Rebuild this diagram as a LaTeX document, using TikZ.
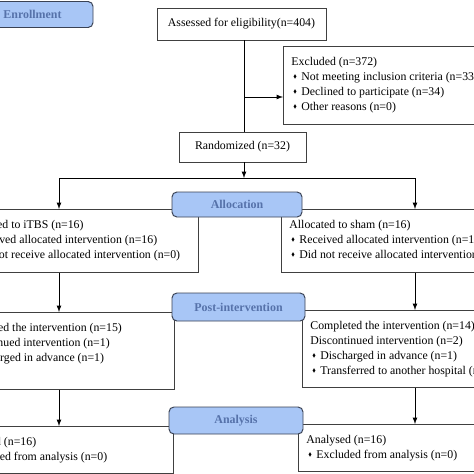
\documentclass[tikz,border=0pt]{standalone}
\usepackage{amssymb}
\usepackage{fontspec}
\setmainfont{Liberation Serif}
\usepackage{tikz}
\usetikzlibrary{arrows,positioning,calc}
\newlength{\pxu}
\setlength{\pxu}{0.025cm}
\definecolor{stagefill}{RGB}{168,198,246}
\definecolor{stagetext}{RGB}{86,114,170}
\definecolor{stageline}{RGB}{58,66,84}
\newcommand{\itm}{\hspace*{2\pxu}\makebox[8\pxu][l]{\raisebox{0.35ex}{\scalebox{0.45}{$\blacklozenge$}}}}
\newcommand{\boxtext}[3]{\parbox[t][#2\pxu][t]{#1\pxu}{\raggedright #3}}

\begin{document}
\begin{tikzpicture}[x=0.025cm,y=-0.025cm,font=\fontsize{8.4}{10.6}\selectfont,
    flowbox/.style={draw=black!75,line width=0.6pt,fill=white,anchor=north west,
      inner xsep=8*\pxu,inner ysep=11*\pxu},
    plainbox/.style={draw=black!75,line width=0.6pt,fill=white,inner sep=0pt},
    stage/.style={draw=stageline,line width=0.7pt,fill=stagefill,rounded corners=3.5pt,
      inner sep=0pt,text=stagetext,font=\fontsize{8.5}{10}\selectfont\bfseries},
    link/.style={line width=0.6pt}]
  \useasboundingbox (0,0) rectangle (474,474);
  \clip (0,0) rectangle (474,474);
  % enrollment
  \node[plainbox,minimum width=169*\pxu,minimum height=32*\pxu] (assess) at (241.5,24) {Assessed for eligibility(n=404)};
  \node[flowbox] (excl) at (283,46) {\boxtext{290}{56}{Excluded (n=372)\\
    \itm Not meeting inclusion criteria (n=338)\\
    \itm Declined to participate (n=34)\\
    \itm Other reasons (n=0)}};
  \node[plainbox,minimum width=127*\pxu,minimum height=30*\pxu] (random) at (242.5,147) {Randomized (n=32)};
  % allocation
  \node[flowbox] (allocl) at (-46,209) {\boxtext{228}{41}{Allocated to iTBS (n=16)\\
    \itm Received allocated intervention (n=16)\\
    \itm Did not receive allocated intervention (n=0)}};
  \node[flowbox] (allocr) at (281,209) {\boxtext{290}{41}{Allocated to sham (n=16)\\
    \itm Received allocated intervention (n=16)\\
    \itm Did not receive allocated intervention (n=0)}};
  % post-intervention
  \node[flowbox] (postl) at (-51,312) {\boxtext{209}{55}{Completed the intervention (n=15)\\
    Discontinued intervention (n=1)\\
    \itm Discharged in advance (n=1)}};
  \node[flowbox] (postr) at (302,310) {\boxtext{290}{55}{Completed the intervention (n=14)\\
    Discontinued intervention (n=2)\\
    \itm Discharged in advance (n=1)\\
    \itm Transferred to another hospital (n=1)}};
  % analysis
  \node[flowbox] (anal) at (-52,426) {\boxtext{209}{25}{Analysed (n=16)\\
    \itm Excluded from analysis (n=0)}};
  \node[flowbox] (anar) at (298,424) {\boxtext{290}{25}{Analysed (n=16)\\
    \itm Excluded from analysis (n=0)}};
  % connectors
  \coordinate (spine) at (244,0);
  \coordinate (lx) at (59,0);
  \coordinate (rx) at (415,0);
  \coordinate (exclarr) at (244,97);
  \coordinate (split) at (244,178);
  \draw[link] (assess.south -| spine) -- (random.north -| spine);
  \draw[link,-latex] (exclarr) -- (exclarr -| excl.west);
  \draw[link,-latex] (random.south -| spine) -- (split);
  \draw[link,-latex] (split) -| (allocl.north -| lx);
  \draw[link,-latex] (split) -| (allocr.north -| rx);
  \draw[link,-latex] (allocl.south -| lx) -- (postl.north -| lx);
  \draw[link,-latex] (allocr.south -| rx) -- (postr.north -| rx);
  \draw[link,-latex] (postl.south -| lx) -- (anal.north -| lx);
  \draw[link,-latex] (postr.south -| rx) -- (anar.north -| rx);
  % stage labels
  \node[stage,minimum width=121*\pxu,minimum height=26*\pxu] (enrol) at (32.5,14.5) {Enrollment};
  \node[stage,minimum width=130*\pxu,minimum height=25*\pxu] (alloc) at (237,204.5) {Allocation};
  \node[stage,minimum width=133*\pxu,minimum height=28*\pxu] (post) at (238.5,307) {Post-intervention};
  \node[stage,minimum width=134*\pxu,minimum height=27*\pxu] (ana) at (236,420.5) {Analysis};
\end{tikzpicture}
\end{document}
